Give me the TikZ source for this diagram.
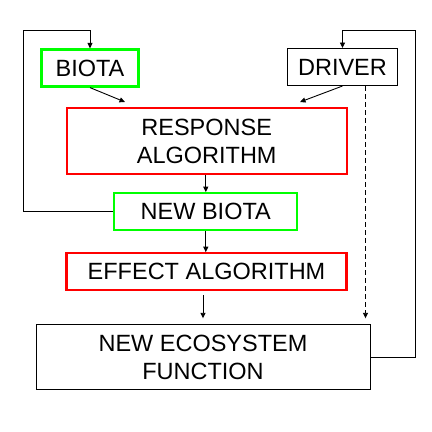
\documentclass[tikz,border=0pt]{standalone}
\usepackage{fontspec}
\setmainfont{Liberation Sans}
\usepackage{tikz}
\usetikzlibrary{arrows.meta}
\tikzset{
	box/.style={draw, line width=1pt, inner sep=0pt, align=center,
		font=\fontsize{23.5}{28}\selectfont},
	greenbox/.style={box, draw={rgb,255:red,0;green,255;blue,0}, line width=2.2pt},
	redbox/.style={box, draw={rgb,255:red,255;green,0;blue,0}, line width=2.2pt},
	arr/.style={line width=0.9pt, -{Triangle[length=5.5pt,width=5pt]}}
}
\begin{document}
\begin{tikzpicture}[x=1pt,y=-1pt]
	\useasboundingbox (0,0) rectangle (432,432);
	% boxes
	\node[greenbox, minimum width=97pt, minimum height=37pt] (biota) at (90,68) {BIOTA};
	\node[box, minimum width=110pt, minimum height=37pt] (driver) at (342.5,67) {DRIVER};
	\node[redbox, minimum width=280pt, minimum height=66pt] (response) at (206.7,141.3) {RESPONSE\\ALGORITHM};
	\node[greenbox, minimum width=183pt, minimum height=37pt] (newbiota) at (205.8,211.7) {NEW BIOTA};
	\node[redbox, minimum width=280pt, minimum height=37pt] (effect) at (206.5,271.8) {EFFECT ALGORITHM};
	\node[box, minimum width=334pt, minimum height=65pt] (neweco) at (203,357.3) {NEW ECOSYSTEM\\FUNCTION};
	
	% free ends
	\coordinate (r1) at (125,102);
	\coordinate (r2) at (300,102);
	\coordinate (ltop) at (23,30);
	\coordinate (rtop) at (415,30);
	\coordinate (dv) at (365.5,0);
	
	% connectors
	\draw[arr] (biota.south) -- (r1);
	\draw[arr] (driver.south) -- (r2);
	\draw[arr] (response.south -| newbiota.north) -- (newbiota.north);
	\draw[arr] (newbiota.south) -- (newbiota.south |- effect.north);
	\draw[arr, shorten <=4pt, shorten >=6pt] (effect.south -| neweco.north) -- (neweco.north);
	\draw[arr, dash pattern=on 5pt off 3pt, shorten >=6pt] (driver.south -| dv) -- (neweco.north -| dv);
	\draw[arr] (newbiota.west) -| (ltop) -| (biota.north);
	\draw[arr] (neweco.east) -| (rtop) -| (driver.north);
\end{tikzpicture}
\end{document}
